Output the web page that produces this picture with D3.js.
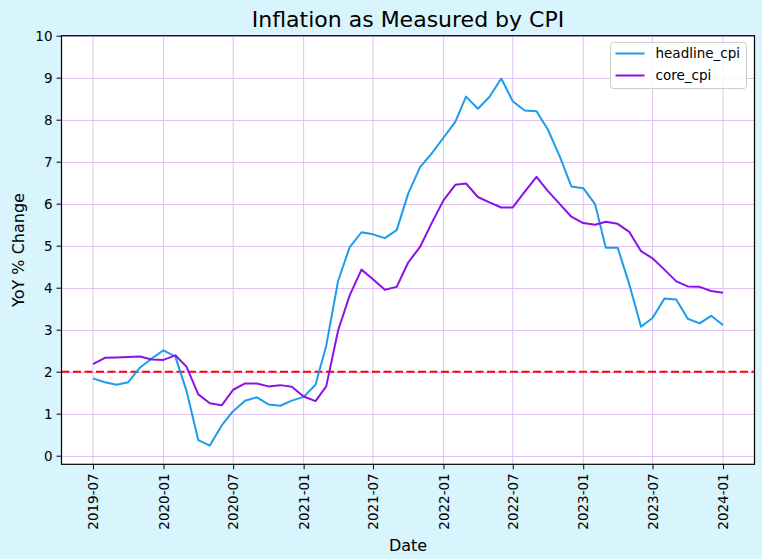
<!DOCTYPE html>
<html>
<head>
<meta charset="utf-8">
<script src="https://cdn.jsdelivr.net/npm/d3@7"></script>
<style>
  body { margin: 0; background: #d8f4fc; }
  svg { display: block; font-family: "DejaVu Sans", sans-serif; }
</style>
</head>
<body>
<svg id="chart"></svg>
<script>
// months, 2019-07 .. 2024-01
var months = d3.utcMonths(new Date(Date.UTC(2019, 6, 1)), new Date(Date.UTC(2024, 1, 1)));

var headlineCpi = [1.84, 1.75, 1.69, 1.75, 2.10, 2.31, 2.51, 2.36, 1.55, 0.37, 0.24, 0.72,
                   1.06, 1.31, 1.39, 1.22, 1.19, 1.31, 1.40, 1.69, 2.62, 4.16, 4.96, 5.32,
                   5.27, 5.18, 5.37, 6.24, 6.87, 7.19, 7.57, 7.95, 8.55, 8.26, 8.54, 8.98,
                   8.44, 8.22, 8.20, 7.76, 7.12, 6.41, 6.37, 5.99, 4.95, 4.95, 4.09, 3.07,
                   3.28, 3.74, 3.72, 3.26, 3.15, 3.33, 3.11];

var coreCpi = [2.18, 2.33, 2.34, 2.35, 2.36, 2.29, 2.28, 2.39, 2.12, 1.46, 1.25, 1.20,
               1.57, 1.72, 1.72, 1.65, 1.68, 1.64, 1.41, 1.30, 1.65, 2.98, 3.81, 4.43,
               4.20, 3.95, 4.02, 4.60, 4.97, 5.53, 6.08, 6.45, 6.48, 6.16, 6.03, 5.91,
               5.91, 6.28, 6.64, 6.30, 5.99, 5.69, 5.54, 5.50, 5.57, 5.52, 5.33, 4.87,
               4.70, 4.43, 4.15, 4.03, 4.02, 3.92, 3.88];

var yTicks = [0, 1, 2, 3, 4, 5, 6, 7, 8, 9, 10];
var target = 2;

var width = 762, height = 559;
var margin = { left: 61.5, right: 7.5, top: 35.7, bottom: 94.7 };

var svg = d3.select("#chart").attr("width", width).attr("height", height);

svg.append("rect").attr("width", width).attr("height", height).attr("fill", "#d8f4fc");

// x domain padded like matplotlib's 5% margin
var t0 = months[0].getTime(), t1 = months[months.length - 1].getTime();
var pad = (t1 - t0) * 0.05;
var xScale = d3.scaleUtc()
  .domain([new Date(t0 - pad), new Date(t1 + pad)])
  .range([margin.left, width - margin.right]);

var yScale = d3.scaleLinear()
  .domain([-0.205, 10])
  .range([height - margin.bottom, margin.top]);

var xTicks = months.filter(function(d) { return d.getUTCMonth() % 6 === 0; });

// plot background
svg.append("rect")
  .attr("x", margin.left).attr("y", margin.top)
  .attr("width", width - margin.left - margin.right)
  .attr("height", height - margin.top - margin.bottom)
  .attr("fill", "white");

// grid
var grid = svg.append("g").attr("stroke", "#e0c2f2").attr("stroke-width", 1);
grid.selectAll("line.gx").data(xTicks).enter().append("line")
  .attr("x1", function(d) { return xScale(d); }).attr("x2", function(d) { return xScale(d); })
  .attr("y1", margin.top).attr("y2", height - margin.bottom);
grid.selectAll("line.gy").data(yTicks).enter().append("line")
  .attr("y1", function(d) { return Math.round(yScale(d)) + 0.5; })
  .attr("y2", function(d) { return Math.round(yScale(d)) + 0.5; })
  .attr("x1", margin.left).attr("x2", width - margin.right);

// target line
svg.append("line")
  .attr("x1", margin.left).attr("x2", width - margin.right)
  .attr("y1", yScale(target)).attr("y2", yScale(target))
  .attr("stroke", "#ff0000").attr("stroke-width", 2)
  .attr("stroke-dasharray", "8,3.5");

var line = d3.line()
  .x(function(d, i) { return xScale(months[i]); })
  .y(function(d) { return yScale(d); });

var series = [
  { name: "headline_cpi", values: headlineCpi, color: "#1c9ceb" },
  { name: "core_cpi", values: coreCpi, color: "#8a12e8" }
];

svg.selectAll("path.series").data(series).enter().append("path")
  .attr("class", "series")
  .attr("d", function(d) { return line(d.values); })
  .attr("fill", "none")
  .attr("stroke", function(d) { return d.color; })
  .attr("stroke-width", 2)
  .attr("stroke-linejoin", "round");

// axes
var xAxis = d3.axisBottom(xScale).tickValues(xTicks)
  .tickFormat(d3.utcFormat("%Y-%m")).tickSize(5).tickPadding(3);
var yAxis = d3.axisLeft(yScale).tickValues(yTicks).tickSize(5).tickPadding(4);

var gx = svg.append("g").attr("transform", "translate(0," + (height - margin.bottom) + ")").call(xAxis);
gx.select(".domain").remove();
gx.selectAll("text")
  .attr("font-size", 13.5).attr("font-family", "DejaVu Sans").attr("fill", "black")
  .attr("text-anchor", "end")
  .attr("transform", "rotate(-90)")
  .attr("x", -9).attr("y", 0).attr("dy", "0.35em");

var gy = svg.append("g").attr("transform", "translate(" + margin.left + ",0)").call(yAxis);
gy.select(".domain").remove();
gy.selectAll("text").attr("font-size", 13.5).attr("font-family", "DejaVu Sans").attr("fill", "black");

// frame
svg.append("rect")
  .attr("x", margin.left).attr("y", margin.top)
  .attr("width", width - margin.left - margin.right)
  .attr("height", height - margin.top - margin.bottom)
  .attr("fill", "none").attr("stroke", "black").attr("stroke-width", 1.2);

// labels
var cx = (margin.left + width - margin.right) / 2;
svg.append("text").attr("x", cx).attr("y", 27).attr("text-anchor", "middle")
  .attr("font-size", 22).text("Inflation as Measured by CPI");
svg.append("text").attr("x", cx).attr("y", 551).attr("text-anchor", "middle")
  .attr("font-size", 16).text("Date");
svg.append("text")
  .attr("transform", "translate(24," + ((margin.top + height - margin.bottom) / 2) + ") rotate(-90)")
  .attr("text-anchor", "middle").attr("font-size", 16).text("YoY % Change");

// legend
var legend = svg.append("g").attr("transform", "translate(610.5,42.5)");
legend.append("rect").attr("width", 136).attr("height", 46).attr("rx", 3)
  .attr("fill", "white").attr("fill-opacity", 0.8).attr("stroke", "#cccccc");
var items = legend.selectAll("g.item").data(series).enter().append("g")
  .attr("transform", function(d, i) { return "translate(0," + (11 + i * 22) + ")"; });
items.append("line").attr("x1", 5).attr("x2", 34).attr("stroke-width", 2)
  .attr("stroke", function(d) { return d.color; });
items.append("text").attr("x", 45).attr("dy", "0.35em").attr("font-size", 13.5)
  .text(function(d) { return d.name; });
</script>
</body>
</html>
